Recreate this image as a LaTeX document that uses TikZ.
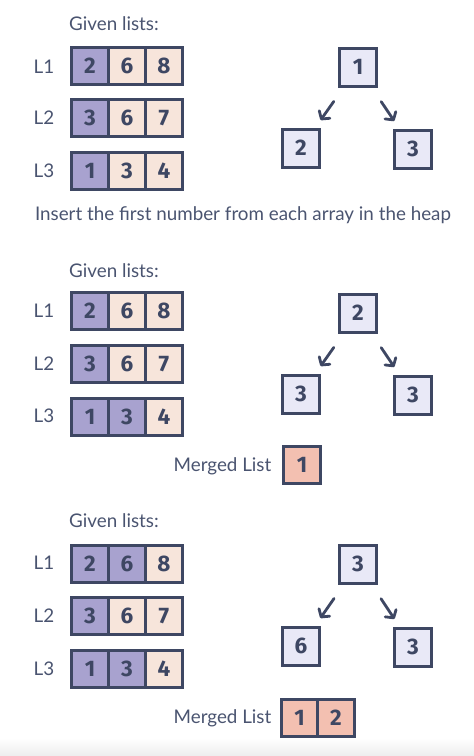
\documentclass[tikz,border=0pt]{standalone}
\usepackage{fontspec}
\setmainfont{Lato}
\newfontfamily\numfont{Fira Sans}
\usetikzlibrary{arrows.meta}
\definecolor{ink}{HTML}{3E4763}
\definecolor{txt}{HTML}{4A5470}
\definecolor{used}{HTML}{A8A2CF}
\definecolor{peach}{HTML}{F7E5DB}
\definecolor{heapfill}{HTML}{E9E9F7}
\definecolor{merged}{HTML}{F3C0B1}
\tikzset{
  cell/.style={draw=ink, line width=3pt, minimum width=37pt, minimum height=37pt,
    inner sep=0pt, font=\numfont\fontsize{22.5}{22.5}\selectfont\bfseries, text=ink},
  usedcell/.style={cell, fill=used},
  freecell/.style={cell, fill=peach},
  heapbox/.style={cell, fill=heapfill, minimum width=37pt, minimum height=38pt},
  mergedcell/.style={cell, fill=merged},
  lbl/.style={font=\fontsize{18.8}{19}\selectfont, text=txt, inner sep=0pt},
  harrow/.style={draw=ink, line width=2.8pt, line cap=round, line join=round,
    -{Straight Barb[length=5.5pt,width=13pt,line cap=round,line join=round]},
    shorten <=17pt, shorten >=9pt}
}
\begin{document}
\begin{tikzpicture}[x=1pt,y=-1pt]
\useasboundingbox (0,0) rectangle (474,756);
\shade[top color=white, bottom color=black!7] (0,738) rectangle (474,756);

% ---------- Panel 1 ----------
\node[lbl] (g1) at (114,24) {Given lists:};
\node[lbl] (a1) at (44,67) {L1};
\node[lbl] (b1) at (44,118) {L2};
\node[lbl] (c1) at (44,171) {L3};
\node[usedcell] (a1x) at (90,65.5) {2};
\node[freecell] (a1y) at (127,65.5) {6};
\node[freecell] (a1z) at (164,65.5) {8};
\node[usedcell] (b1x) at (90,118) {3};
\node[freecell] (b1y) at (127,118) {6};
\node[freecell] (b1z) at (164,118) {7};
\node[usedcell] (c1x) at (90,171) {1};
\node[freecell] (c1y) at (127,171) {3};
\node[freecell] (c1z) at (164,171) {4};
\node[heapbox] (t1) at (358,67) {1};
\node[heapbox] (l1) at (301,148) {2};
\node[heapbox] (r1) at (413,149) {3};
\draw[harrow] (t1) -- (l1);
\draw[harrow] (t1) -- (r1);
\node[lbl] (ins) at (243,215) {Insert the first number from each array in the heap};

% ---------- Panel 2 ----------
\node[lbl] (g2) at (114,271) {Given lists:};
\node[lbl] (a2) at (44,311) {L1};
\node[lbl] (b2) at (44,364) {L2};
\node[lbl] (c2) at (44,416) {L3};
\node[usedcell] (a2x) at (90,311) {2};
\node[freecell] (a2y) at (127,311) {6};
\node[freecell] (a2z) at (164,311) {8};
\node[usedcell] (b2x) at (90,364) {3};
\node[freecell] (b2y) at (127,364) {6};
\node[freecell] (b2z) at (164,364) {7};
\node[usedcell] (c2x) at (90,416.5) {1};
\node[usedcell] (c2y) at (127,416.5) {3};
\node[freecell] (c2z) at (164,416.5) {4};
\node[heapbox] (t2) at (358,313) {2};
\node[heapbox] (l2) at (301,394) {3};
\node[heapbox] (r2) at (413,395) {3};
\draw[harrow] (t2) -- (l2);
\draw[harrow] (t2) -- (r2);
\node[lbl] (m2) at (222.5,466) {Merged List};
\node[mergedcell] (m2a) at (302,465) {1};

% ---------- Panel 3 ----------
\node[lbl] (g3) at (114,521) {Given lists:};
\node[lbl] (a3) at (44,563) {L1};
\node[lbl] (b3) at (44,616) {L2};
\node[lbl] (c3) at (44,669) {L3};
\node[usedcell] (a3x) at (90,563.5) {2};
\node[usedcell] (a3y) at (127,563.5) {6};
\node[freecell] (a3z) at (164,563.5) {8};
\node[usedcell] (b3x) at (90,616) {3};
\node[freecell] (b3y) at (127,616) {6};
\node[freecell] (b3z) at (164,616) {7};
\node[usedcell] (c3x) at (90,668.5) {1};
\node[usedcell] (c3y) at (127,668.5) {3};
\node[freecell] (c3z) at (164,668.5) {4};
\node[heapbox] (t3) at (358,564) {3};
\node[heapbox] (l3) at (301,646) {6};
\node[heapbox] (r3) at (413,647) {3};
\draw[harrow] (t3) -- (l3);
\draw[harrow] (t3) -- (r3);
\node[lbl] (m3) at (222.5,718) {Merged List};
\node[mergedcell] (m3a) at (299.5,717.5) {1};
\node[mergedcell] (m3b) at (336,717.5) {2};
\end{tikzpicture}
\end{document}
